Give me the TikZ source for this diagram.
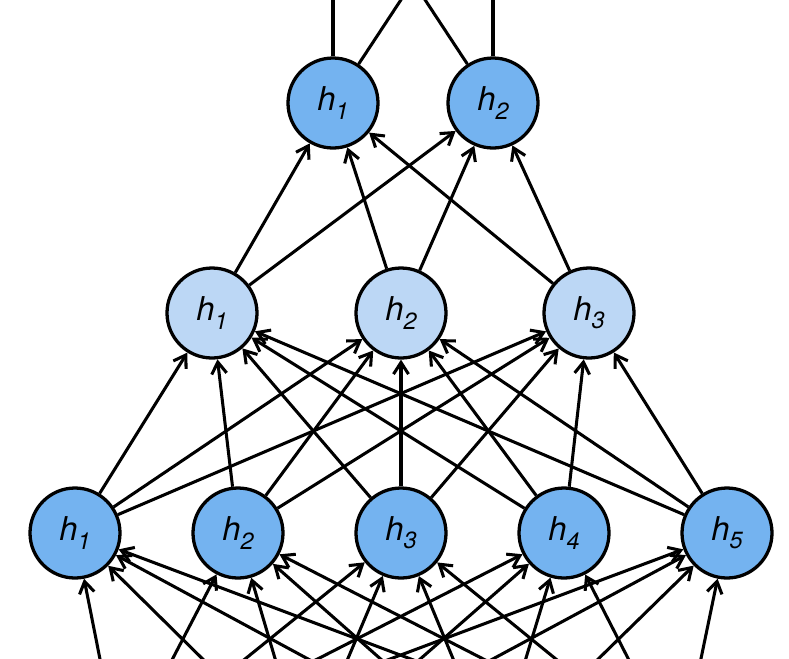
\documentclass[tikz,border=0pt]{standalone}
\usepackage{fontspec}
\setmainfont{TeX Gyre Heros}
\usetikzlibrary{arrows.meta}
\definecolor{deepblue}{HTML}{74B3F0}
\definecolor{paleblue}{HTML}{BCD7F5}
\tikzset{unit/.style={circle,draw,line width=2.8pt,minimum size=2.7cm,inner sep=0pt,font=\fontsize{28}{32}\selectfont\itshape},
  edge/.style={line width=2.6pt,-{Straight Barb[length=3.5mm,width=4.5mm,line width=2.6pt]}}}
\newcommand{\hlab}[1]{h\raisebox{-0.25em}{\fontsize{20}{24}\selectfont #1}}

\begin{document}
\begin{tikzpicture}[x=0.03cm,y=-0.03cm]
    \useasboundingbox (0,0) rectangle (789,658);
    \clip (0,0) rectangle (789,658);

    % layers outside the frame
    \foreach \i/\x in {1/120,2/305,3/495,4/680}
        \coordinate (in\i) at (\x,760);
    \coordinate (out1) at (333,-140);
    \coordinate (out2) at (493,-140);

    % nodes
    \foreach \i/\x in {1/75,2/238,3/401,4/564,5/727}
        \node[unit,fill=deepblue] (a\i) at (\x,533) {\hlab{\i}};
    \foreach \i/\x in {1/212,2/401,3/589}
        \node[unit,fill=paleblue] (b\i) at (\x,313) {\hlab{\i}};
    \foreach \i/\x in {1/333,2/493}
        \node[unit,fill=deepblue] (c\i) at (\x,103) {\hlab{\i}};

    % connections
    \foreach \i in {1,...,4}
        \foreach \j in {1,...,5}
            \draw[edge] (in\i) -- (a\j);
    \foreach \i in {1,...,5}
        \foreach \j in {1,2,3}
            \draw[edge] (a\i) -- (b\j);
    \foreach \i in {1,2,3}
        \foreach \j in {1,2}
            \draw[edge] (b\i) -- (c\j);
    \foreach \i in {1,2}
        \foreach \j in {1,2}
            \draw[line width=2.6pt] (c\i) -- (out\j);
\end{tikzpicture}
\end{document}
